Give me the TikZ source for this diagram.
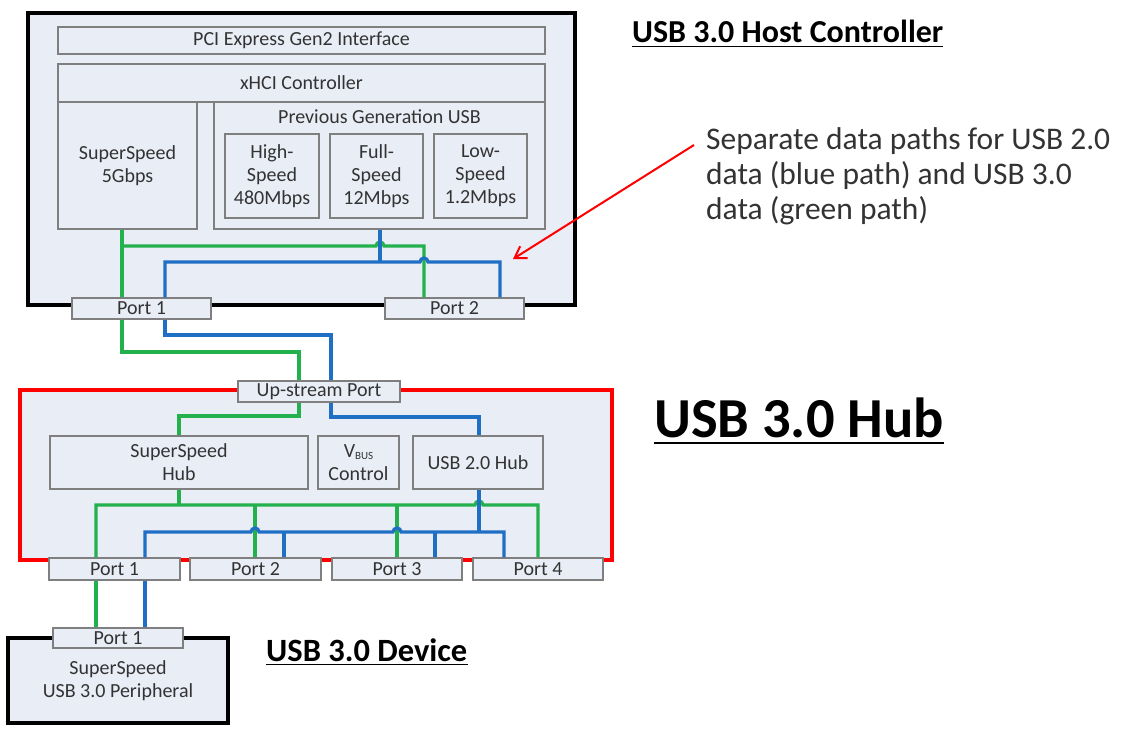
\documentclass[tikz,border=0pt]{standalone}
\usepackage{fontspec}
\setmainfont{Carlito}
\usetikzlibrary{arrows.meta}
\definecolor{boxfill}{HTML}{E9EDF6}
\definecolor{boxgray}{HTML}{7F7F7F}
\definecolor{txtgray}{HTML}{333333}
\definecolor{pgreen}{HTML}{22B14C}
\definecolor{pblue}{HTML}{1F6FC5}
\newcommand\boxfont{\fontsize{20}{23}\selectfont}
\newcommand\mybox[7][]{\node[bx,minimum width={(#5-#3)*1pt},minimum height={(#6-#4)*1pt},#1] (#2) at ({(#3+#5)/2},{(#4+#6)/2}) {#7};}
\begin{document}
\begin{tikzpicture}[x=1pt,y=-1pt,
  bx/.style={draw=boxgray,fill=boxfill,line width=1.4pt,inner sep=0pt,align=center,text=txtgray,font=\boxfont},
  outerbox/.style={line width=3.2pt},
  gw/.style={draw=pgreen,line width=3.2pt},
  bw/.style={draw=pblue,line width=3.2pt},
  lbl/.style={anchor=base west,inner sep=0pt,text=black},
  uline/.style={draw=black,line width=1.7pt},
  hop/.style={start angle=180,end angle=360,radius=4}]
\useasboundingbox[fill=white] (0,0) rectangle (1134,730);

% ---------------- Host controller ----------------
\mybox[draw=black,outerbox]{host}{28}{13}{575}{305}{}
\mybox{pci}{58}{27}{545}{54}{PCI Express Gen2 Interface}
\mybox{xhci}{58}{64}{545}{102}{xHCI Controller}
\mybox{ss}{58}{102}{197}{229}{SuperSpeed\\5Gbps}
\mybox{prev}{214}{102}{545}{229}{}
\node[inner sep=0pt,text=txtgray,font=\boxfont] (prevlbl) at (379.5,117) {Previous Generation USB};
\mybox{hs}{225}{134}{319}{218}{High-\\Speed\\480Mbps}
\mybox{fs}{330}{134}{423}{218}{Full-\\Speed\\12Mbps}
\mybox{ls}{434}{134}{527}{218}{Low-\\Speed\\1.2Mbps}
\mybox{hp1}{72}{298}{211}{319}{Port 1}
\mybox{hp2}{385}{298}{524}{319}{Port 2}

\coordinate (hg1) at (122,246);
\coordinate (hg2) at (424,246);
\coordinate (hbx) at (380,262);
\coordinate (hb1) at (165,262);
\coordinate (hb2) at (500,262);
\draw[gw] (ss.south -| hg1) -- (hp1.north -| hg1);
\draw[gw] (hg1) -- (376,246) arc[hop] -- (hg2) -- (hp2.north -| hg2);
\draw[bw] (prev.south -| hbx) -- (hbx);
\draw[bw] (hp1.north -| hb1) -- (hb1) -- (420,262) arc[hop] -- (hb2) -- (hp2.north -| hb2);

% ---------------- Hub ----------------
\mybox[draw=red,outerbox]{hub}{20}{390}{612}{560}{}
\mybox{up}{238}{381}{400}{402}{Up-stream Port}
\mybox{sshub}{50}{436}{308}{489}{SuperSpeed\\Hub}
\mybox{vbus}{318}{436}{399}{489}{V\raisebox{-2pt}{\fontsize{11}{11}\selectfont BUS}\\Control}
\mybox{usbhub}{413}{436}{543}{489}{USB 2.0 Hub}
\mybox{p1}{49}{558}{180}{580}{Port 1}
\mybox{p2}{190}{558}{321}{580}{Port 2}
\mybox{p3}{332}{558}{462}{580}{Port 3}
\mybox{p4}{473}{558}{603}{580}{Port 4}

\coordinate (m1) at (299,352);
\coordinate (m2) at (331,335);
\draw[gw] (hp1.south -| hg1) |- (m1) -- (up.north -| m1);
\draw[bw] (hp1.south -| hb1) |- (m2) -- (up.north -| m2);

\coordinate (u1) at (179,416);
\coordinate (u2) at (479,417);
\draw[gw] (up.south -| m1) |- (u1) -- (sshub.north -| u1);
\draw[bw] (up.south -| m2) |- (u2) -- (usbhub.north -| u2);

\coordinate (gl) at (96,505);
\coordinate (gj) at (179,505);
\coordinate (g2) at (255,505);
\coordinate (g3) at (397,505);
\coordinate (gr) at (538,505);
\coordinate (bl) at (145,532);
\coordinate (bj) at (479,532);
\coordinate (b2) at (284,532);
\coordinate (b3) at (435,532);
\coordinate (br) at (504,532);
\draw[gw] (sshub.south -| gj) -- (gj);
\draw[gw] (p1.north -| gl) -- (gl) -- (475,505) arc[hop] -- (gr) -- (p4.north -| gr);
\draw[gw] (g2) -- (p2.north -| g2);
\draw[gw] (g3) -- (p3.north -| g3);
\draw[bw] (usbhub.south -| bj) -- (bj);
\draw[bw] (p1.north -| bl) -- (bl) -- (251,532) arc[hop] -- (393,532) arc[hop] -- (br) -- (p4.north -| br);
\draw[bw] (b2) -- (p2.north -| b2);
\draw[bw] (b3) -- (p3.north -| b3);

% ---------------- Device ----------------
\mybox[draw=black,outerbox]{dev}{8}{638}{228}{723}{SuperSpeed\\USB 3.0 Peripheral}
\mybox{dp}{53}{628}{183}{648}{Port 1}
\draw[gw] (p1.south -| gl) -- (dp.north -| gl);
\draw[bw] (p1.south -| bl) -- (dp.north -| bl);

% ---------------- Labels ----------------
\node[lbl,font=\bfseries\fontsize{32}{32}\selectfont] (hostlbl) at (632,43) {USB 3.0 Host Controller};
\draw[uline] ([yshift=-3.5pt]hostlbl.base west) -- ([yshift=-3.5pt]hostlbl.base east);
\node[lbl,font=\bfseries\fontsize{56.5}{56.5}\selectfont] (hublbl) at (654,437) {USB 3.0 Hub};
\draw[uline,line width=2.2pt] ([yshift=-6pt]hublbl.base west) -- ([yshift=-6pt]hublbl.base east);
\node[lbl,font=\bfseries\fontsize{32.5}{32.5}\selectfont] (devlbl) at (266,661) {USB 3.0 Device};
\draw[uline] ([yshift=-3.5pt]devlbl.base west) -- ([yshift=-3.5pt]devlbl.base east);

\node[anchor=base west,inner sep=0pt,align=left,text=txtgray,font=\fontsize{31.5}{35}\selectfont] (note) at (706,219)
  {Separate data paths for USB 2.0\\data (blue path) and USB 3.0\\data (green path)};
\coordinate (arrs) at (694,145);
\coordinate (arre) at (513,259);
\draw[draw=red,line width=2pt,-{Straight Barb[length=11pt,width=14pt,line width=2pt]}] (arrs) -- (arre);
\end{tikzpicture}
\end{document}
